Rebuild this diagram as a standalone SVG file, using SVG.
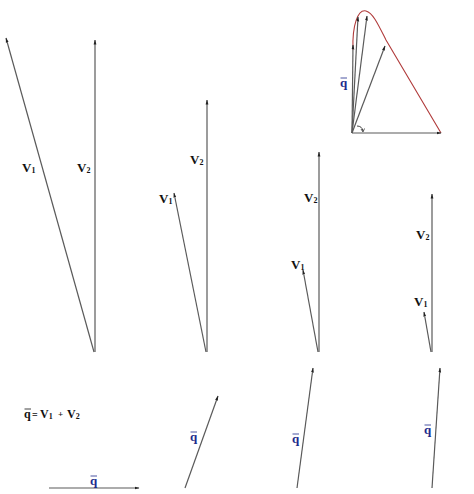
<svg xmlns="http://www.w3.org/2000/svg" width="474" height="494" viewBox="0 0 474 494">
<style>
.v{stroke:#5a5a5a;stroke-width:1.2;fill:none;marker-end:url(#ah)}
.lbl{font-family:"Liberation Serif",serif;font-weight:bold;font-size:13px;fill:#111}
.sub{font-size:8px}
.q{font-family:"Liberation Serif",serif;font-weight:bold;font-size:13px;fill:#1c2a8c}
.qa{stroke:#1c2a8c;stroke-width:0.8;fill:none}
</style>
<defs>
<marker id="ah" markerWidth="5" markerHeight="4" refX="4.5" refY="2" orient="auto" markerUnits="userSpaceOnUse">
<path d="M0,0.6 L5,2 L0,3.4 Z" fill="#222"/>
</marker>
</defs>
<rect width="474" height="494" fill="#fff"/>
<g id="connectors">
<line class="v" x1="94" y1="352" x2="6" y2="38"/>
<line class="v" x1="95" y1="352" x2="95" y2="40"/>
<line class="v" x1="206" y1="352" x2="174" y2="193"/>
<line class="v" x1="207" y1="352" x2="207" y2="100"/>
<line class="v" x1="318" y1="352" x2="303" y2="270"/>
<line class="v" x1="319" y1="352" x2="319" y2="152"/>
<line class="v" x1="431" y1="352" x2="424" y2="312"/>
<line class="v" x1="432" y1="352" x2="432" y2="194"/>
<line class="v" x1="49" y1="488" x2="139" y2="488"/>
<line class="v" x1="185" y1="488" x2="218" y2="396"/>
<line class="v" x1="297" y1="488" x2="313" y2="368"/>
<line class="v" x1="432" y1="488" x2="440" y2="368"/>
</g>
<g id="col1-labels">
<text class="lbl" x="22" y="172">V<tspan class="sub" dy="1">1</tspan></text>
<text class="lbl" x="77" y="172">V<tspan class="sub" dy="1">2</tspan></text>
</g>
<g id="col2-labels">
<text class="lbl" x="190" y="164">V<tspan class="sub" dy="1">2</tspan></text>
<text class="lbl" x="159" y="203">V<tspan class="sub" dy="1">1</tspan></text>
</g>
<g id="col3-labels">
<text class="lbl" x="304" y="202">V<tspan class="sub" dy="1">2</tspan></text>
<text class="lbl" x="291" y="269">V<tspan class="sub" dy="1">1</tspan></text>
</g>
<g id="col4-labels">
<text class="lbl" x="416" y="239">V<tspan class="sub" dy="1">2</tspan></text>
<text class="lbl" x="414" y="306">V<tspan class="sub" dy="1">1</tspan></text>
</g>
<g id="formula">
<text class="lbl" x="24" y="418" style="font-size:12px">q</text>
<path d="M24.5,409 L31,409" stroke="#111" stroke-width="0.8"/>
<text class="lbl" x="32" y="418" style="font-size:10px">=</text>
<text class="lbl" x="40" y="418" style="font-size:12px">V<tspan class="sub" dy="1">1</tspan></text>
<text class="lbl" x="58" y="417" style="font-size:9px">+</text>
<text class="lbl" x="67" y="418" style="font-size:12px">V<tspan class="sub" dy="1">2</tspan></text>
</g>
<g id="q-labels">
<text class="q" x="90" y="485">q</text><path class="qa" d="M90.5,476 L97,476"/>
<text class="q" x="190" y="441">q</text><path class="qa" d="M190.5,432 L197,432"/>
<text class="q" x="292" y="443">q</text><path class="qa" d="M292.5,434 L299,434"/>
<text class="q" x="424" y="434">q</text><path class="qa" d="M424.5,425 L431,425"/>
<text class="q" x="340" y="87">q</text><path class="qa" d="M340.5,78 L347,78"/>
</g>
<g id="polar">
<path d="M353,50 C352,25 358,9 366,11 C373,13 378,24 386,40 L441,133" stroke="#b03a3a" stroke-width="1.1" fill="none"/>
<line class="v" x1="352" y1="133" x2="441" y2="133"/>
<line class="v" x1="352" y1="133" x2="353" y2="45"/>
<line class="v" x1="352" y1="133" x2="358" y2="17"/>
<line class="v" x1="352" y1="133" x2="367" y2="16"/>
<line class="v" x1="352" y1="133" x2="385" y2="46"/>
<path d="M357,126 Q362,126 363,131" stroke="#333" stroke-width="0.9" fill="none"/>
<path d="M361,129 L363,132 L364.5,128.5" stroke="#333" stroke-width="0.8" fill="none"/>
</g>
</svg>
